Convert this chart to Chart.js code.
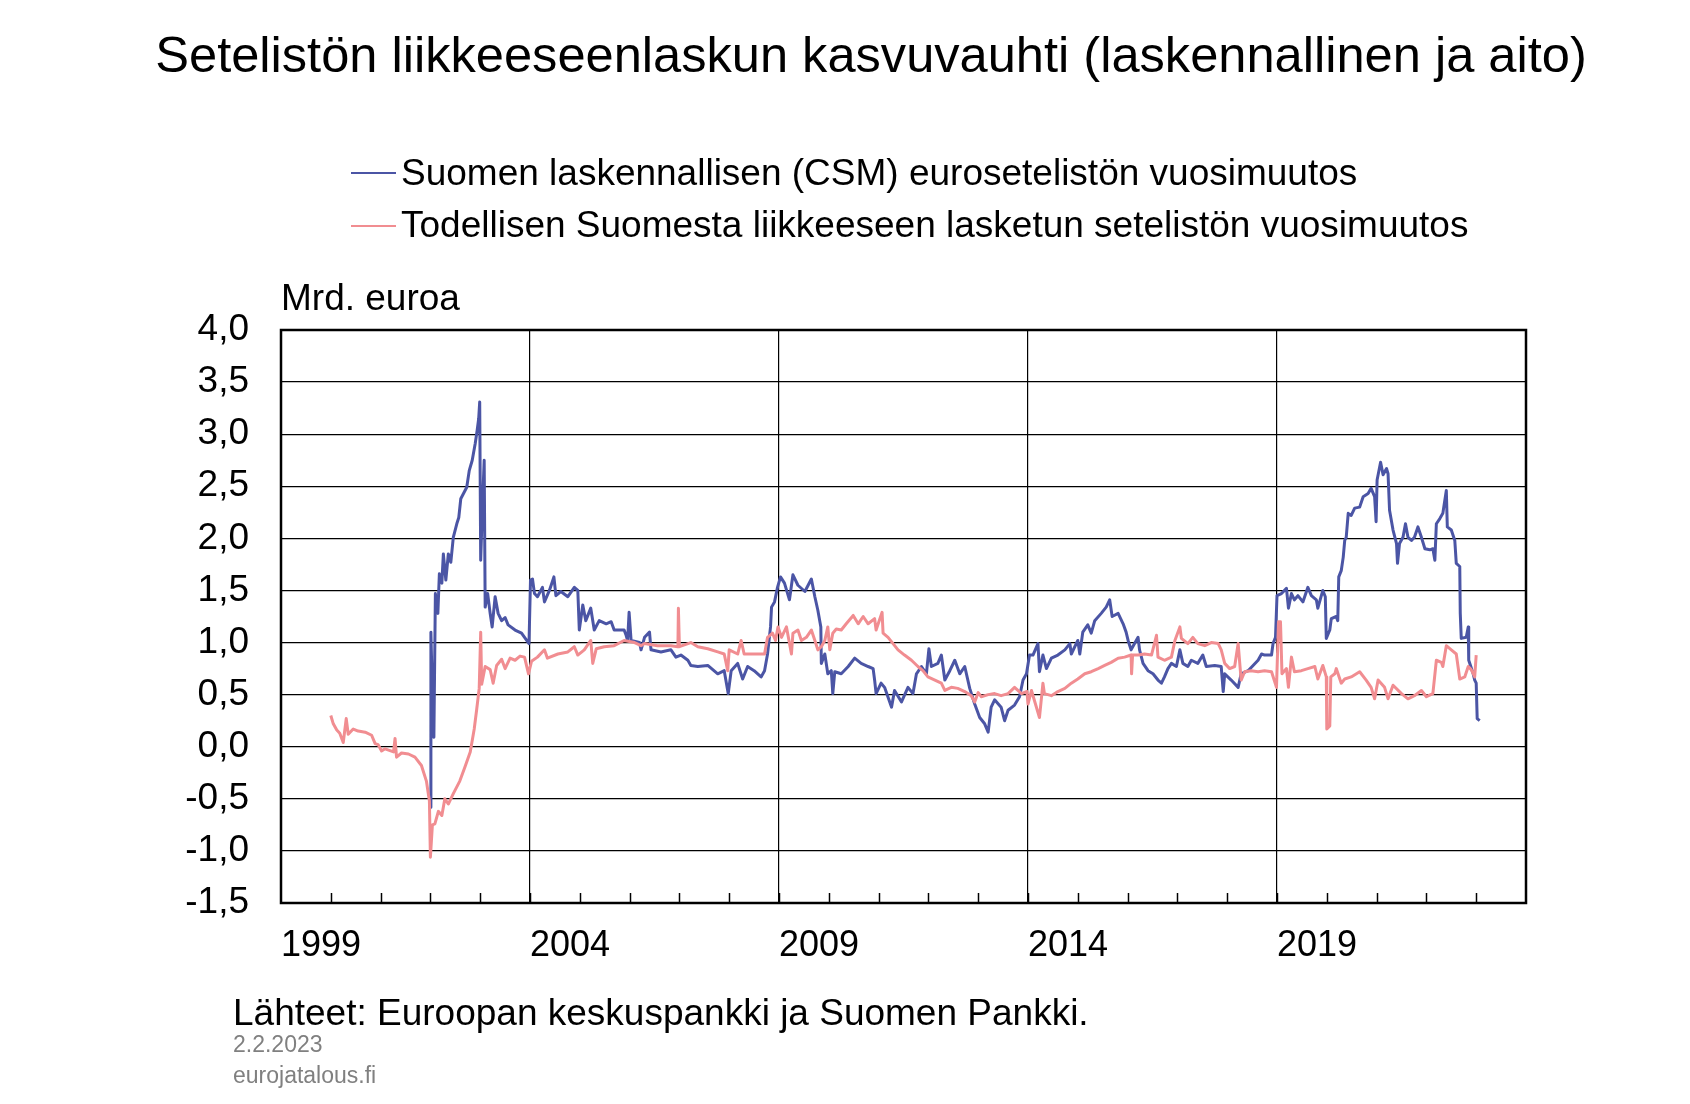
<!DOCTYPE html>
<html>
<head>
<meta charset="utf-8">
<script src="https://cdn.jsdelivr.net/npm/chart.js@4.4.0/dist/chart.umd.min.js"></script>
<style>
  body { margin: 0; background: #fff; }
  #wrap { position: relative; width: 1690px; height: 1104px; font-family: "Liberation Sans", Arial, sans-serif; }
  #wrap canvas { position: absolute; left: 0; top: 0; }
  .txt { position: absolute; white-space: nowrap; line-height: 1; color: #000; }
  .key { position: absolute; left: 351px; width: 45px; height: 2px; }
</style>
</head>
<body>
<div id="wrap">
  <canvas id="chart" width="1690" height="1104"></canvas>
  <div class="txt" style="left:0;width:1742px;text-align:center;top:30px;font-size:50.6px;">Setelistön liikkeeseenlaskun kasvuvauhti (laskennallinen ja aito)</div>
  <div class="key" style="top:172px;background:#4b55a5;"></div>
  <div class="txt" style="left:401px;top:154px;font-size:37px;">Suomen laskennallisen (CSM) eurosetelistön vuosimuutos</div>
  <div class="key" style="top:225px;background:#f18d91;"></div>
  <div class="txt" style="left:401px;top:206px;font-size:37px;">Todellisen Suomesta liikkeeseen lasketun setelistön vuosimuutos</div>
  <div class="txt" style="left:281px;top:279px;font-size:37px;">Mrd. euroa</div>
  <div class="txt" style="left:233px;top:994px;font-size:37px;">Lähteet: Euroopan keskuspankki ja Suomen Pankki.</div>
  <div class="txt" style="left:233px;top:1033px;font-size:23px;color:#808080;">2.2.2023</div>
  <div class="txt" style="left:233px;top:1064px;font-size:23px;color:#808080;">eurojatalous.fi</div>
</div>
<script>
// x-axis labels (years shown under the axis)
const labelYears = [1999, 2004, 2009, 2014, 2019];

// Suomen laskennallinen (CSM) eurosetelistön vuosimuutos, mrd. euroa
const csmYears = [
  2002.00, 2002.01, 2002.04, 2002.07, 2002.10, 2002.15, 2002.18, 2002.23, 2002.26, 2002.31,
  2002.36, 2002.41, 2002.46, 2002.53, 2002.57, 2002.61, 2002.73, 2002.78, 2002.84, 2002.90,
  2002.94, 2002.97, 2002.99, 2003.01, 2003.04, 2003.08, 2003.10, 2003.15, 2003.20, 2003.24,
  2003.30, 2003.36, 2003.43, 2003.50, 2003.56, 2003.70, 2003.83, 2003.98, 2004.01, 2004.05,
  2004.09, 2004.15, 2004.25, 2004.29, 2004.39, 2004.48, 2004.52, 2004.62, 2004.76, 2004.89,
  2004.96, 2004.99, 2005.06, 2005.12, 2005.22, 2005.29, 2005.39, 2005.53, 2005.63, 2005.69,
  2005.89, 2005.93, 2005.96, 2005.99, 2006.03, 2006.20, 2006.23, 2006.30, 2006.40, 2006.43,
  2006.63, 2006.83, 2006.93, 2007.03, 2007.17, 2007.23, 2007.37, 2007.57, 2007.77, 2007.90,
  2007.98, 2008.04, 2008.17, 2008.27, 2008.37, 2008.50, 2008.64, 2008.71, 2008.77, 2008.83,
  2008.85, 2008.91, 2008.97, 2009.03, 2009.11, 2009.21, 2009.28, 2009.38, 2009.52, 2009.65,
  2009.72, 2009.78, 2009.84, 2009.85, 2009.92, 2009.98, 2010.05, 2010.08, 2010.12, 2010.25,
  2010.39, 2010.52, 2010.65, 2010.79, 2010.89, 2010.92, 2010.95, 2011.05, 2011.12, 2011.26,
  2011.32, 2011.46, 2011.59, 2011.69, 2011.76, 2011.86, 2011.96, 2012.01, 2012.06, 2012.19,
  2012.26, 2012.33, 2012.43, 2012.53, 2012.63, 2012.73, 2012.83, 2012.93, 2013.03, 2013.13,
  2013.20, 2013.26, 2013.33, 2013.46, 2013.53, 2013.60, 2013.73, 2013.83, 2013.90, 2013.97,
  2014.03, 2014.10, 2014.20, 2014.23, 2014.30, 2014.37, 2014.47, 2014.60, 2014.74, 2014.84,
  2014.87, 2015.00, 2015.04, 2015.10, 2015.20, 2015.27, 2015.34, 2015.47, 2015.57, 2015.64,
  2015.69, 2015.81, 2015.91, 2015.97, 2016.01, 2016.07, 2016.21, 2016.24, 2016.31, 2016.41,
  2016.51, 2016.61, 2016.68, 2016.74, 2016.81, 2016.88, 2016.98, 2017.05, 2017.11, 2017.21,
  2017.28, 2017.41, 2017.51, 2017.58, 2017.75, 2017.88, 2017.92, 2017.95, 2018.08, 2018.22,
  2018.28, 2018.42, 2018.52, 2018.62, 2018.69, 2018.75, 2018.89, 2018.92, 2018.97, 2019.00,
  2019.09, 2019.19, 2019.23, 2019.29, 2019.35, 2019.42, 2019.52, 2019.62, 2019.69, 2019.79,
  2019.82, 2019.92, 2019.97, 2019.99, 2020.06, 2020.09, 2020.19, 2020.22, 2020.24, 2020.29,
  2020.33, 2020.36, 2020.39, 2020.43, 2020.49, 2020.56, 2020.66, 2020.73, 2020.83, 2020.89,
  2020.96, 2020.99, 2021.01, 2021.08, 2021.13, 2021.20, 2021.23, 2021.26, 2021.33, 2021.40,
  2021.42, 2021.46, 2021.53, 2021.58, 2021.63, 2021.70, 2021.76, 2021.83, 2021.90, 2021.97,
  2022.07, 2022.13, 2022.17, 2022.20, 2022.27, 2022.33, 2022.40, 2022.42, 2022.50, 2022.57,
  2022.60, 2022.67, 2022.68, 2022.70, 2022.80, 2022.84, 2022.85, 2022.94, 2022.97, 2023.00,
  2023.02, 2023.07
];
const csmValues = [
  -0.58, 1.10, 0.50, 0.09, 1.47, 1.28, 1.66, 1.57, 1.85, 1.60,
  1.85, 1.77, 2.01, 2.14, 2.20, 2.38, 2.49, 2.65, 2.75, 2.91,
  3.04, 3.15, 3.31, 1.79, 2.24, 2.75, 1.34, 1.47, 1.28, 1.15,
  1.44, 1.28, 1.21, 1.24, 1.17, 1.12, 1.09, 0.99, 1.60, 1.61,
  1.47, 1.44, 1.53, 1.39, 1.50, 1.63, 1.45, 1.49, 1.44, 1.53,
  1.50, 1.12, 1.36, 1.21, 1.33, 1.12, 1.21, 1.18, 1.20, 1.12,
  1.12, 1.07, 1.02, 1.29, 1.02, 1.00, 0.93, 1.05, 1.10, 0.93,
  0.91, 0.93, 0.86, 0.88, 0.83, 0.78, 0.77, 0.78, 0.70, 0.73,
  0.51, 0.73, 0.80, 0.65, 0.77, 0.73, 0.67, 0.73, 0.89, 1.15,
  1.34, 1.39, 1.53, 1.63, 1.57, 1.41, 1.65, 1.55, 1.49, 1.61,
  1.44, 1.31, 1.15, 0.80, 0.89, 0.70, 0.73, 0.51, 0.72, 0.70,
  0.77, 0.85, 0.80, 0.77, 0.75, 0.64, 0.51, 0.61, 0.57, 0.38,
  0.54, 0.43, 0.57, 0.51, 0.70, 0.77, 0.70, 0.94, 0.77, 0.80,
  0.88, 0.64, 0.73, 0.83, 0.70, 0.77, 0.56, 0.41, 0.28, 0.22,
  0.14, 0.38, 0.45, 0.38, 0.25, 0.35, 0.40, 0.48, 0.64, 0.70,
  0.88, 0.88, 0.99, 0.72, 0.88, 0.75, 0.85, 0.88, 0.93, 0.99,
  0.89, 1.02, 0.89, 1.10, 1.17, 1.09, 1.21, 1.28, 1.34, 1.41,
  1.25, 1.28, 1.18, 1.10, 1.02, 0.93, 1.05, 0.93, 0.80, 0.73,
  0.70, 0.64, 0.61, 0.67, 0.75, 0.80, 0.77, 0.93, 0.80, 0.77,
  0.83, 0.80, 0.88, 0.77, 0.78, 0.77, 0.53, 0.70, 0.64, 0.57,
  0.70, 0.73, 0.78, 0.83, 0.89, 0.88, 0.88, 0.99, 1.05, 1.45,
  1.47, 1.52, 1.33, 1.47, 1.41, 1.45, 1.39, 1.53, 1.45, 1.41,
  1.33, 1.50, 1.44, 1.04, 1.12, 1.23, 1.25, 1.21, 1.63, 1.69,
  1.82, 1.98, 2.01, 2.24, 2.22, 2.29, 2.30, 2.40, 2.43, 2.48,
  2.40, 2.16, 2.56, 2.73, 2.61, 2.67, 2.62, 2.27, 2.08, 1.95,
  1.76, 1.95, 2.01, 2.14, 2.01, 1.98, 2.01, 2.11, 2.01, 1.90,
  1.89, 1.90, 1.79, 2.14, 2.19, 2.24, 2.46, 2.11, 2.08, 1.98,
  1.76, 1.73, 1.28, 1.04, 1.05, 1.15, 0.83, 0.70, 0.64, 0.61,
  0.27, 0.25
];

// Todellisen Suomesta liikkeeseen lasketun setelistön vuosimuutos, mrd. euroa
const actualYears = [
  2000.00, 2000.05, 2000.12, 2000.18, 2000.25, 2000.31, 2000.35, 2000.45, 2000.55, 2000.69,
  2000.82, 2000.89, 2000.95, 2001.02, 2001.09, 2001.26, 2001.29, 2001.32, 2001.42, 2001.56,
  2001.69, 2001.82, 2001.92, 2001.98, 2002.00, 2002.04, 2002.09, 2002.16, 2002.23, 2002.29,
  2002.36, 2002.46, 2002.59, 2002.69, 2002.80, 2002.88, 2002.93, 2002.98, 2003.01, 2003.03,
  2003.10, 2003.20, 2003.26, 2003.33, 2003.43, 2003.50, 2003.60, 2003.70, 2003.80, 2003.89,
  2003.97, 2004.03, 2004.15, 2004.29, 2004.35, 2004.56, 2004.76, 2004.89, 2004.96, 2005.09,
  2005.22, 2005.26, 2005.33, 2005.49, 2005.69, 2005.89, 2006.10, 2006.23, 2006.30, 2006.56,
  2006.83, 2006.97, 2006.98, 2007.00, 2007.23, 2007.37, 2007.57, 2007.77, 2007.90, 2007.97,
  2008.00, 2008.17, 2008.24, 2008.30, 2008.50, 2008.71, 2008.77, 2008.87, 2008.93, 2008.98,
  2009.05, 2009.15, 2009.25, 2009.28, 2009.38, 2009.45, 2009.55, 2009.65, 2009.72, 2009.78,
  2009.85, 2009.92, 2009.98, 2010.02, 2010.08, 2010.15, 2010.25, 2010.35, 2010.49, 2010.59,
  2010.69, 2010.79, 2010.92, 2010.95, 2011.07, 2011.09, 2011.19, 2011.29, 2011.39, 2011.52,
  2011.66, 2011.79, 2011.89, 2011.99, 2012.13, 2012.26, 2012.33, 2012.46, 2012.59, 2012.73,
  2012.86, 2012.93, 2013.00, 2013.06, 2013.20, 2013.33, 2013.46, 2013.60, 2013.73, 2013.87,
  2013.98, 2014.00, 2014.07, 2014.23, 2014.30, 2014.33, 2014.47, 2014.60, 2014.74, 2014.87,
  2015.00, 2015.14, 2015.27, 2015.41, 2015.54, 2015.67, 2015.81, 2015.94, 2016.07, 2016.08,
  2016.10, 2016.21, 2016.34, 2016.48, 2016.58, 2016.61, 2016.74, 2016.88, 2016.95, 2017.05,
  2017.08, 2017.21, 2017.31, 2017.41, 2017.55, 2017.68, 2017.82, 2017.88, 2017.95, 2018.05,
  2018.15, 2018.22, 2018.28, 2018.35, 2018.48, 2018.62, 2018.75, 2018.89, 2018.99, 2019.03,
  2019.07, 2019.10, 2019.19, 2019.23, 2019.29, 2019.35, 2019.49, 2019.62, 2019.76, 2019.82,
  2019.92, 2019.99, 2020.00, 2020.06, 2020.08, 2020.16, 2020.19, 2020.29, 2020.36, 2020.49,
  2020.66, 2020.79, 2020.89, 2020.96, 2021.03, 2021.16, 2021.23, 2021.33, 2021.50, 2021.63,
  2021.76, 2021.90, 2022.00, 2022.13, 2022.20, 2022.30, 2022.33, 2022.40, 2022.50, 2022.60,
  2022.67, 2022.77, 2022.84, 2022.90, 2022.97, 2023.00
];
const actualValues = [
  0.30, 0.22, 0.16, 0.13, 0.04, 0.27, 0.12, 0.17, 0.15, 0.14,
  0.11, 0.03, 0.02, -0.04, -0.02, -0.05, 0.08, -0.10, -0.06, -0.07,
  -0.10, -0.18, -0.33, -0.52, -1.06, -0.75, -0.74, -0.62, -0.66, -0.50,
  -0.55, -0.45, -0.33, -0.20, -0.05, 0.17, 0.36, 0.56, 1.10, 0.60,
  0.77, 0.74, 0.61, 0.78, 0.84, 0.75, 0.85, 0.83, 0.87, 0.86,
  0.70, 0.82, 0.86, 0.93, 0.85, 0.89, 0.91, 0.96, 0.88, 0.93,
  1.02, 0.80, 0.94, 0.96, 0.97, 1.02, 1.00, 0.97, 0.99, 0.97,
  0.97, 0.96, 1.33, 0.96, 1.00, 0.96, 0.94, 0.91, 0.89, 0.73,
  0.93, 0.89, 1.02, 0.89, 0.89, 0.89, 1.05, 1.09, 1.02, 1.15,
  1.05, 1.15, 0.89, 1.09, 1.12, 1.02, 1.05, 1.12, 1.02, 0.93,
  0.96, 1.02, 1.15, 0.93, 1.09, 1.13, 1.12, 1.18, 1.26, 1.18,
  1.25, 1.18, 1.23, 1.12, 1.29, 1.09, 1.05, 0.99, 0.93, 0.88,
  0.83, 0.77, 0.73, 0.67, 0.64, 0.61, 0.54, 0.57, 0.56, 0.53,
  0.49, 0.43, 0.52, 0.48, 0.50, 0.51, 0.49, 0.51, 0.57, 0.51,
  0.53, 0.41, 0.54, 0.28, 0.61, 0.51, 0.49, 0.53, 0.56, 0.61,
  0.65, 0.70, 0.72, 0.75, 0.78, 0.81, 0.85, 0.86, 0.88, 0.70,
  0.88, 0.88, 0.89, 0.88, 1.07, 0.86, 0.83, 0.86, 1.02, 1.15,
  1.04, 0.99, 1.05, 0.99, 0.97, 1.00, 0.99, 0.93, 0.80, 0.75,
  0.77, 0.99, 0.64, 0.72, 0.73, 0.72, 0.73, 0.72, 0.57, 1.20,
  1.20, 0.70, 0.75, 0.57, 0.86, 0.72, 0.73, 0.75, 0.77, 0.65,
  0.78, 0.67, 0.17, 0.20, 0.67, 0.70, 0.75, 0.61, 0.65, 0.67,
  0.72, 0.64, 0.57, 0.46, 0.64, 0.57, 0.46, 0.59, 0.51, 0.46,
  0.49, 0.54, 0.48, 0.51, 0.83, 0.81, 0.77, 0.97, 0.93, 0.89,
  0.65, 0.67, 0.77, 0.74, 0.67, 0.88
];

const toPoints = (xs, ys) => xs.map((x, i) => ({ x: x, y: ys[i] }));

Chart.defaults.font.family = '"Liberation Sans", Arial, sans-serif';
Chart.defaults.color = '#000';

// frame around the plot and the small year ticks pointing up from the bottom
const framePlugin = {
  id: 'frame',
  afterDatasetsDraw(chart) {
    const { ctx, chartArea: a, scales } = chart;
    ctx.save();
    ctx.strokeStyle = '#000';
    ctx.lineWidth = 1.5;
    for (let yr = 2000; yr < 2024; yr++) {
      const px = Math.round(scales.x.getPixelForValue(yr)) + 0.5;
      ctx.beginPath();
      ctx.moveTo(px, a.bottom);
      ctx.lineTo(px, a.bottom - 10);
      ctx.stroke();
    }
    ctx.lineWidth = 2.5;
    ctx.strokeRect(a.left, a.top, a.right - a.left, a.bottom - a.top);
    ctx.restore();
  }
};

new Chart(document.getElementById('chart').getContext('2d'), {
  type: 'line',
  data: {
    datasets: [{
      label: 'Suomen laskennallisen (CSM) eurosetelistön vuosimuutos',
      data: toPoints(csmYears, csmValues),
      borderColor: '#4b55a5',
      borderWidth: 3,
      borderJoinStyle: 'round',
      pointRadius: 0,
      tension: 0,
      order: 1
    }, {
      label: 'Todellisen Suomesta liikkeeseen lasketun setelistön vuosimuutos',
      data: toPoints(actualYears, actualValues),
      borderColor: '#f18d91',
      borderWidth: 3,
      borderJoinStyle: 'round',
      pointRadius: 0,
      tension: 0,
      order: 0
    }]
  },
  options: {
    responsive: false,
    animation: false,
    layout: { padding: { top: 330, right: 164, bottom: 0, left: 0 } },
    scales: {
      x: {
        type: 'linear',
        min: 1999,
        max: 2024,
        afterFit: (scale) => { scale.height = 201; },
        border: { display: false },
        grid: {
          drawTicks: false,
          lineWidth: 1.2,
          color: (c) => (c.tick && labelYears.includes(c.tick.value) && c.tick.value !== 1999) ? '#000' : 'rgba(0,0,0,0)'
        },
        ticks: {
          stepSize: 1,
          autoSkip: false,
          maxRotation: 0,
          minRotation: 0,
          align: 'start',
          padding: 21,
          font: { size: 36 },
          callback: (value) => labelYears.includes(value) ? String(value) : ''
        }
      },
      y: {
        min: -1.5,
        max: 4,
        afterFit: (scale) => { scale.width = 281; },
        border: { display: false },
        grid: { drawTicks: false, lineWidth: 1.2, color: '#000' },
        ticks: {
          stepSize: 0.5,
          padding: 32,
          font: { size: 37 },
          callback: (value) => value.toFixed(1).replace('.', ',')
        }
      }
    },
    plugins: {
      legend: { display: false },
      title: { display: false },
      tooltip: { enabled: false }
    }
  },
  plugins: [framePlugin]
});
</script>
</body>
</html>
